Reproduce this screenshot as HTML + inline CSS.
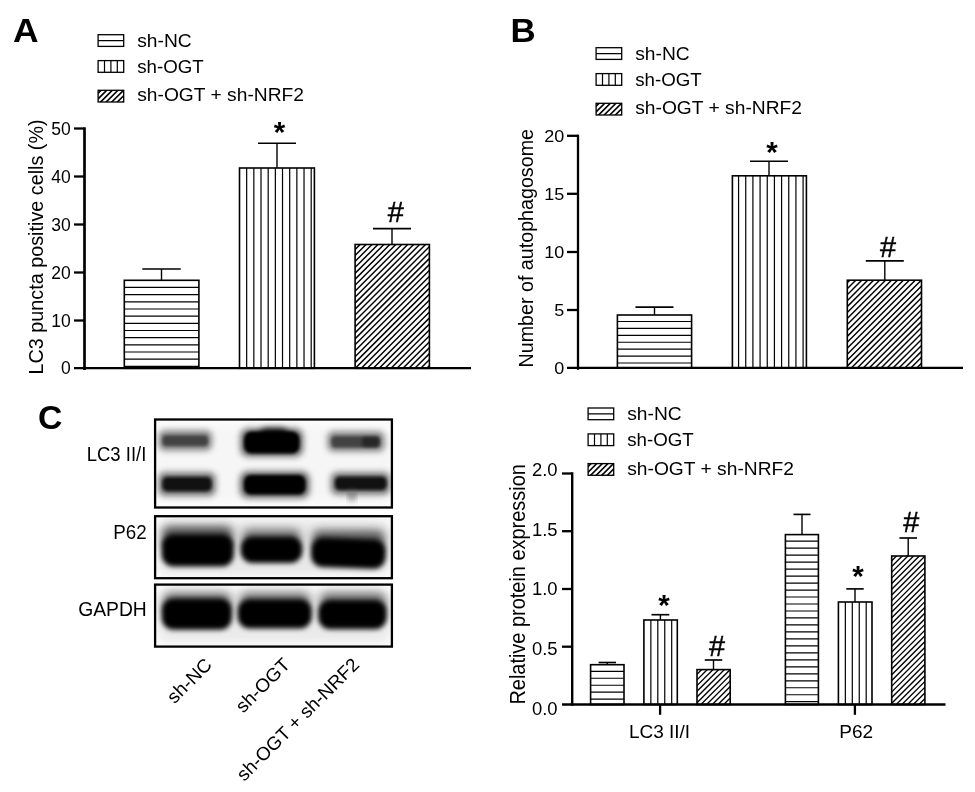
<!DOCTYPE html>
<html><head><meta charset="utf-8"><title>Figure</title>
<style>html,body{margin:0;padding:0;background:#fff}svg{display:block}text{white-space:pre;stroke:none}</style>
</head><body>
<svg width="975" height="792" viewBox="0 0 975 792" font-family="'Liberation Sans', Arial, sans-serif" fill="#000" stroke="#000">
<defs><filter id="b0" x="-20%" y="-50%" width="140%" height="200%"><feGaussianBlur stdDeviation="1.7"/></filter><filter id="b1" x="-20%" y="-50%" width="140%" height="200%"><feGaussianBlur stdDeviation="3.0"/></filter><filter id="b2" x="-20%" y="-50%" width="140%" height="200%"><feGaussianBlur stdDeviation="2.9"/></filter><filter id="b3" x="-20%" y="-50%" width="140%" height="200%"><feGaussianBlur stdDeviation="4"/></filter></defs>
<g stroke="none">
<text x="12.9" y="41.7" font-size="33.5" text-anchor="start" font-weight="bold" textLength="25.60" lengthAdjust="spacingAndGlyphs">A</text>
<text x="510.6" y="41.8" font-size="33.5" text-anchor="start" font-weight="bold" textLength="25.20" lengthAdjust="spacingAndGlyphs">B</text>
<text x="38.0" y="429.2" font-size="33.5" text-anchor="start" font-weight="bold" textLength="24.40" lengthAdjust="spacingAndGlyphs">C</text>
</g>
<g stroke="none">
<text x="70.7" y="135.0" font-size="17.5" text-anchor="end" font-weight="normal">50</text>
<text x="70.7" y="183.0" font-size="17.5" text-anchor="end" font-weight="normal">40</text>
<text x="70.7" y="231.0" font-size="17.5" text-anchor="end" font-weight="normal">30</text>
<text x="70.7" y="279.0" font-size="17.5" text-anchor="end" font-weight="normal">20</text>
<text x="70.7" y="327.0" font-size="17.5" text-anchor="end" font-weight="normal">10</text>
<text x="70.7" y="373.90000000000003" font-size="17.5" text-anchor="end" font-weight="normal">0</text>
<text x="42.6" y="374.4" font-size="21" text-anchor="start" font-weight="normal" transform="rotate(-90 42.6 374.4)" textLength="255.00" lengthAdjust="spacingAndGlyphs">LC3 puncta positive cells (%)</text>
<text x="273.85" y="141.9" font-size="29.5" text-anchor="start" font-weight="bold">*</text>
<g transform="translate(395.65 212.2) scale(1 1.03)"><text x="-7.99" y="9.86" font-size="28.8" style="stroke:#000;stroke-width:0.45px">#</text></g>
</g>
<clipPath id="c1"><rect x="98.10" y="34.70" width="25.60" height="11.70"/></clipPath>
<g clip-path="url(#c1)" stroke-width="1.2">
<line x1="98.10" y1="40.55" x2="123.70" y2="40.55"/>
</g>
<rect x="98.10" y="34.70" width="25.60" height="11.70" fill="none" stroke-width="1.3"/>
<text x="137.2" y="46.6" font-size="18.7" text-anchor="start" font-weight="normal" textLength="54.47" lengthAdjust="spacingAndGlyphs">sh-NC</text>
<clipPath id="c2"><rect x="98.10" y="60.60" width="25.60" height="11.70"/></clipPath>
<g clip-path="url(#c2)" stroke-width="1.2">
<line x1="104.50" y1="60.60" x2="104.50" y2="72.30"/>
<line x1="110.90" y1="60.60" x2="110.90" y2="72.30"/>
<line x1="117.30" y1="60.60" x2="117.30" y2="72.30"/>
</g>
<rect x="98.10" y="60.60" width="25.60" height="11.70" fill="none" stroke-width="1.3"/>
<text x="137.2" y="72.6" font-size="18.7" text-anchor="start" font-weight="normal" textLength="66.49" lengthAdjust="spacingAndGlyphs">sh-OGT</text>
<clipPath id="c3"><rect x="98.10" y="90.30" width="25.60" height="11.70"/></clipPath>
<g clip-path="url(#c3)" stroke-width="1.6">
<line x1="76.20" y1="104.00" x2="91.90" y2="88.30"/>
<line x1="81.80" y1="104.00" x2="97.50" y2="88.30"/>
<line x1="87.40" y1="104.00" x2="103.10" y2="88.30"/>
<line x1="93.00" y1="104.00" x2="108.70" y2="88.30"/>
<line x1="98.60" y1="104.00" x2="114.30" y2="88.30"/>
<line x1="104.20" y1="104.00" x2="119.90" y2="88.30"/>
<line x1="109.80" y1="104.00" x2="125.50" y2="88.30"/>
<line x1="115.40" y1="104.00" x2="131.10" y2="88.30"/>
<line x1="121.00" y1="104.00" x2="136.70" y2="88.30"/>
<line x1="126.60" y1="104.00" x2="142.30" y2="88.30"/>
</g>
<rect x="98.10" y="90.30" width="25.60" height="11.70" fill="none" stroke-width="1.3"/>
<text x="137.2" y="101.2" font-size="18.7" text-anchor="start" font-weight="normal" textLength="166.82" lengthAdjust="spacingAndGlyphs">sh-OGT + sh-NRF2</text>
<line x1="84.50" y1="127.30" x2="84.50" y2="370.00" stroke-width="2.7" stroke-linecap="butt"/>
<line x1="74.00" y1="368.10" x2="471.00" y2="368.10" stroke-width="2.4" stroke-linecap="butt"/>
<line x1="74.00" y1="128.50" x2="84.50" y2="128.50" stroke-width="2.3" stroke-linecap="butt"/>
<line x1="74.00" y1="176.50" x2="84.50" y2="176.50" stroke-width="2.3" stroke-linecap="butt"/>
<line x1="74.00" y1="224.50" x2="84.50" y2="224.50" stroke-width="2.3" stroke-linecap="butt"/>
<line x1="74.00" y1="272.50" x2="84.50" y2="272.50" stroke-width="2.3" stroke-linecap="butt"/>
<line x1="74.00" y1="320.50" x2="84.50" y2="320.50" stroke-width="2.3" stroke-linecap="butt"/>
<clipPath id="c4"><rect x="124.30" y="280.30" width="74.60" height="88.00"/></clipPath>
<g clip-path="url(#c4)" stroke-width="1.2">
<line x1="124.30" y1="287.47" x2="198.90" y2="287.47"/>
<line x1="124.30" y1="294.64" x2="198.90" y2="294.64"/>
<line x1="124.30" y1="301.81" x2="198.90" y2="301.81"/>
<line x1="124.30" y1="308.98" x2="198.90" y2="308.98"/>
<line x1="124.30" y1="316.15" x2="198.90" y2="316.15"/>
<line x1="124.30" y1="323.32" x2="198.90" y2="323.32"/>
<line x1="124.30" y1="330.49" x2="198.90" y2="330.49"/>
<line x1="124.30" y1="337.66" x2="198.90" y2="337.66"/>
<line x1="124.30" y1="344.83" x2="198.90" y2="344.83"/>
<line x1="124.30" y1="352.00" x2="198.90" y2="352.00"/>
<line x1="124.30" y1="359.17" x2="198.90" y2="359.17"/>
<line x1="124.30" y1="366.34" x2="198.90" y2="366.34"/>
</g>
<rect x="124.30" y="280.30" width="74.60" height="88.00" fill="none" stroke-width="1.6"/>
<line x1="161.50" y1="280.30" x2="161.50" y2="269.00" stroke-width="1.4" stroke-linecap="butt"/>
<line x1="142.30" y1="269.00" x2="180.70" y2="269.00" stroke-width="1.65" stroke-linecap="butt"/>
<clipPath id="c5"><rect x="239.50" y="168.00" width="74.90" height="200.30"/></clipPath>
<g clip-path="url(#c5)" stroke-width="1.2">
<line x1="246.67" y1="168.00" x2="246.67" y2="368.30"/>
<line x1="253.84" y1="168.00" x2="253.84" y2="368.30"/>
<line x1="261.01" y1="168.00" x2="261.01" y2="368.30"/>
<line x1="268.18" y1="168.00" x2="268.18" y2="368.30"/>
<line x1="275.35" y1="168.00" x2="275.35" y2="368.30"/>
<line x1="282.52" y1="168.00" x2="282.52" y2="368.30"/>
<line x1="289.69" y1="168.00" x2="289.69" y2="368.30"/>
<line x1="296.86" y1="168.00" x2="296.86" y2="368.30"/>
<line x1="304.03" y1="168.00" x2="304.03" y2="368.30"/>
<line x1="311.20" y1="168.00" x2="311.20" y2="368.30"/>
</g>
<rect x="239.50" y="168.00" width="74.90" height="200.30" fill="none" stroke-width="1.6"/>
<line x1="277.00" y1="168.00" x2="277.00" y2="143.20" stroke-width="1.4" stroke-linecap="butt"/>
<line x1="258.00" y1="143.20" x2="296.00" y2="143.20" stroke-width="1.65" stroke-linecap="butt"/>
<clipPath id="c6"><rect x="355.10" y="244.50" width="74.30" height="123.80"/></clipPath>
<g clip-path="url(#c6)" stroke-width="1.45">
<line x1="222.40" y1="370.30" x2="350.20" y2="242.50"/>
<line x1="228.35" y1="370.30" x2="356.15" y2="242.50"/>
<line x1="234.30" y1="370.30" x2="362.10" y2="242.50"/>
<line x1="240.25" y1="370.30" x2="368.05" y2="242.50"/>
<line x1="246.20" y1="370.30" x2="374.00" y2="242.50"/>
<line x1="252.15" y1="370.30" x2="379.95" y2="242.50"/>
<line x1="258.10" y1="370.30" x2="385.90" y2="242.50"/>
<line x1="264.05" y1="370.30" x2="391.85" y2="242.50"/>
<line x1="270.00" y1="370.30" x2="397.80" y2="242.50"/>
<line x1="275.95" y1="370.30" x2="403.75" y2="242.50"/>
<line x1="281.90" y1="370.30" x2="409.70" y2="242.50"/>
<line x1="287.85" y1="370.30" x2="415.65" y2="242.50"/>
<line x1="293.80" y1="370.30" x2="421.60" y2="242.50"/>
<line x1="299.75" y1="370.30" x2="427.55" y2="242.50"/>
<line x1="305.70" y1="370.30" x2="433.50" y2="242.50"/>
<line x1="311.65" y1="370.30" x2="439.45" y2="242.50"/>
<line x1="317.60" y1="370.30" x2="445.40" y2="242.50"/>
<line x1="323.55" y1="370.30" x2="451.35" y2="242.50"/>
<line x1="329.50" y1="370.30" x2="457.30" y2="242.50"/>
<line x1="335.45" y1="370.30" x2="463.25" y2="242.50"/>
<line x1="341.40" y1="370.30" x2="469.20" y2="242.50"/>
<line x1="347.35" y1="370.30" x2="475.15" y2="242.50"/>
<line x1="353.30" y1="370.30" x2="481.10" y2="242.50"/>
<line x1="359.25" y1="370.30" x2="487.05" y2="242.50"/>
<line x1="365.20" y1="370.30" x2="493.00" y2="242.50"/>
<line x1="371.15" y1="370.30" x2="498.95" y2="242.50"/>
<line x1="377.10" y1="370.30" x2="504.90" y2="242.50"/>
<line x1="383.05" y1="370.30" x2="510.85" y2="242.50"/>
<line x1="389.00" y1="370.30" x2="516.80" y2="242.50"/>
<line x1="394.95" y1="370.30" x2="522.75" y2="242.50"/>
<line x1="400.90" y1="370.30" x2="528.70" y2="242.50"/>
<line x1="406.85" y1="370.30" x2="534.65" y2="242.50"/>
<line x1="412.80" y1="370.30" x2="540.60" y2="242.50"/>
<line x1="418.75" y1="370.30" x2="546.55" y2="242.50"/>
<line x1="424.70" y1="370.30" x2="552.50" y2="242.50"/>
<line x1="430.65" y1="370.30" x2="558.45" y2="242.50"/>
</g>
<rect x="355.10" y="244.50" width="74.30" height="123.80" fill="none" stroke-width="1.6"/>
<line x1="392.00" y1="244.50" x2="392.00" y2="228.60" stroke-width="1.4" stroke-linecap="butt"/>
<line x1="373.00" y1="228.60" x2="411.00" y2="228.60" stroke-width="1.65" stroke-linecap="butt"/>
<g stroke="none">
<text x="564.2" y="141.5" font-size="16.5" text-anchor="end" font-weight="normal" textLength="20.00" lengthAdjust="spacingAndGlyphs">20</text>
<text x="564.2" y="199.5" font-size="16.5" text-anchor="end" font-weight="normal" textLength="20.00" lengthAdjust="spacingAndGlyphs">15</text>
<text x="564.2" y="257.7" font-size="16.5" text-anchor="end" font-weight="normal" textLength="20.00" lengthAdjust="spacingAndGlyphs">10</text>
<text x="564.2" y="315.7" font-size="16.5" text-anchor="end" font-weight="normal" textLength="10.00" lengthAdjust="spacingAndGlyphs">5</text>
<text x="564.2" y="373.8" font-size="16.5" text-anchor="end" font-weight="normal" textLength="10.00" lengthAdjust="spacingAndGlyphs">0</text>
<text x="533.3" y="367.5" font-size="21" text-anchor="start" font-weight="normal" transform="rotate(-90 533.3 367.5)" textLength="238.50" lengthAdjust="spacingAndGlyphs">Number of autophagosome</text>
<text x="766.15" y="162.2" font-size="29.5" text-anchor="start" font-weight="bold">*</text>
<g transform="translate(888.1 247.3) scale(1 1.03)"><text x="-7.99" y="9.86" font-size="28.8" style="stroke:#000;stroke-width:0.45px">#</text></g>
</g>
<clipPath id="c7"><rect x="596.10" y="47.70" width="25.60" height="11.70"/></clipPath>
<g clip-path="url(#c7)" stroke-width="1.2">
<line x1="596.10" y1="53.55" x2="621.70" y2="53.55"/>
</g>
<rect x="596.10" y="47.70" width="25.60" height="11.70" fill="none" stroke-width="1.3"/>
<text x="635.2" y="59.6" font-size="18.7" text-anchor="start" font-weight="normal" textLength="54.47" lengthAdjust="spacingAndGlyphs">sh-NC</text>
<clipPath id="c8"><rect x="596.10" y="73.60" width="25.60" height="11.70"/></clipPath>
<g clip-path="url(#c8)" stroke-width="1.2">
<line x1="602.50" y1="73.60" x2="602.50" y2="85.30"/>
<line x1="608.90" y1="73.60" x2="608.90" y2="85.30"/>
<line x1="615.30" y1="73.60" x2="615.30" y2="85.30"/>
</g>
<rect x="596.10" y="73.60" width="25.60" height="11.70" fill="none" stroke-width="1.3"/>
<text x="635.2" y="85.6" font-size="18.7" text-anchor="start" font-weight="normal" textLength="66.49" lengthAdjust="spacingAndGlyphs">sh-OGT</text>
<clipPath id="c9"><rect x="596.10" y="103.30" width="25.60" height="11.70"/></clipPath>
<g clip-path="url(#c9)" stroke-width="1.6">
<line x1="574.20" y1="117.00" x2="589.90" y2="101.30"/>
<line x1="579.80" y1="117.00" x2="595.50" y2="101.30"/>
<line x1="585.40" y1="117.00" x2="601.10" y2="101.30"/>
<line x1="591.00" y1="117.00" x2="606.70" y2="101.30"/>
<line x1="596.60" y1="117.00" x2="612.30" y2="101.30"/>
<line x1="602.20" y1="117.00" x2="617.90" y2="101.30"/>
<line x1="607.80" y1="117.00" x2="623.50" y2="101.30"/>
<line x1="613.40" y1="117.00" x2="629.10" y2="101.30"/>
<line x1="619.00" y1="117.00" x2="634.70" y2="101.30"/>
<line x1="624.60" y1="117.00" x2="640.30" y2="101.30"/>
</g>
<rect x="596.10" y="103.30" width="25.60" height="11.70" fill="none" stroke-width="1.3"/>
<text x="635.2" y="114.2" font-size="18.7" text-anchor="start" font-weight="normal" textLength="166.82" lengthAdjust="spacingAndGlyphs">sh-OGT + sh-NRF2</text>
<line x1="578.00" y1="134.70" x2="578.00" y2="369.80" stroke-width="2.3" stroke-linecap="butt"/>
<line x1="567.00" y1="367.80" x2="963.00" y2="367.80" stroke-width="2.3" stroke-linecap="butt"/>
<line x1="567.00" y1="135.80" x2="578.00" y2="135.80" stroke-width="2.3" stroke-linecap="butt"/>
<line x1="567.00" y1="193.80" x2="578.00" y2="193.80" stroke-width="2.3" stroke-linecap="butt"/>
<line x1="567.00" y1="252.00" x2="578.00" y2="252.00" stroke-width="2.3" stroke-linecap="butt"/>
<line x1="567.00" y1="310.00" x2="578.00" y2="310.00" stroke-width="2.3" stroke-linecap="butt"/>
<clipPath id="c10"><rect x="617.40" y="315.00" width="74.20" height="52.80"/></clipPath>
<g clip-path="url(#c10)" stroke-width="1.2">
<line x1="617.40" y1="321.50" x2="691.60" y2="321.50"/>
<line x1="617.40" y1="328.42" x2="691.60" y2="328.42"/>
<line x1="617.40" y1="335.34" x2="691.60" y2="335.34"/>
<line x1="617.40" y1="342.26" x2="691.60" y2="342.26"/>
<line x1="617.40" y1="349.18" x2="691.60" y2="349.18"/>
<line x1="617.40" y1="356.10" x2="691.60" y2="356.10"/>
<line x1="617.40" y1="363.02" x2="691.60" y2="363.02"/>
</g>
<rect x="617.40" y="315.00" width="74.20" height="52.80" fill="none" stroke-width="1.6"/>
<line x1="654.50" y1="315.00" x2="654.50" y2="307.10" stroke-width="1.4" stroke-linecap="butt"/>
<line x1="635.50" y1="307.10" x2="673.50" y2="307.10" stroke-width="1.65" stroke-linecap="butt"/>
<clipPath id="c11"><rect x="732.40" y="175.80" width="74.00" height="192.00"/></clipPath>
<g clip-path="url(#c11)" stroke-width="1.2">
<line x1="738.57" y1="175.80" x2="738.57" y2="367.80"/>
<line x1="745.74" y1="175.80" x2="745.74" y2="367.80"/>
<line x1="752.91" y1="175.80" x2="752.91" y2="367.80"/>
<line x1="760.08" y1="175.80" x2="760.08" y2="367.80"/>
<line x1="767.25" y1="175.80" x2="767.25" y2="367.80"/>
<line x1="774.42" y1="175.80" x2="774.42" y2="367.80"/>
<line x1="781.59" y1="175.80" x2="781.59" y2="367.80"/>
<line x1="788.76" y1="175.80" x2="788.76" y2="367.80"/>
<line x1="795.93" y1="175.80" x2="795.93" y2="367.80"/>
<line x1="803.10" y1="175.80" x2="803.10" y2="367.80"/>
</g>
<rect x="732.40" y="175.80" width="74.00" height="192.00" fill="none" stroke-width="1.6"/>
<line x1="769.00" y1="175.80" x2="769.00" y2="161.20" stroke-width="1.4" stroke-linecap="butt"/>
<line x1="750.00" y1="161.20" x2="788.00" y2="161.20" stroke-width="1.65" stroke-linecap="butt"/>
<clipPath id="c12"><rect x="847.30" y="280.20" width="74.20" height="87.60"/></clipPath>
<g clip-path="url(#c12)" stroke-width="1.45">
<line x1="748.37" y1="369.80" x2="839.97" y2="278.20"/>
<line x1="754.32" y1="369.80" x2="845.92" y2="278.20"/>
<line x1="760.27" y1="369.80" x2="851.87" y2="278.20"/>
<line x1="766.22" y1="369.80" x2="857.82" y2="278.20"/>
<line x1="772.17" y1="369.80" x2="863.77" y2="278.20"/>
<line x1="778.12" y1="369.80" x2="869.72" y2="278.20"/>
<line x1="784.07" y1="369.80" x2="875.67" y2="278.20"/>
<line x1="790.02" y1="369.80" x2="881.62" y2="278.20"/>
<line x1="795.97" y1="369.80" x2="887.57" y2="278.20"/>
<line x1="801.92" y1="369.80" x2="893.52" y2="278.20"/>
<line x1="807.87" y1="369.80" x2="899.47" y2="278.20"/>
<line x1="813.82" y1="369.80" x2="905.42" y2="278.20"/>
<line x1="819.77" y1="369.80" x2="911.37" y2="278.20"/>
<line x1="825.72" y1="369.80" x2="917.32" y2="278.20"/>
<line x1="831.67" y1="369.80" x2="923.27" y2="278.20"/>
<line x1="837.62" y1="369.80" x2="929.22" y2="278.20"/>
<line x1="843.57" y1="369.80" x2="935.17" y2="278.20"/>
<line x1="849.52" y1="369.80" x2="941.12" y2="278.20"/>
<line x1="855.47" y1="369.80" x2="947.07" y2="278.20"/>
<line x1="861.42" y1="369.80" x2="953.02" y2="278.20"/>
<line x1="867.37" y1="369.80" x2="958.97" y2="278.20"/>
<line x1="873.32" y1="369.80" x2="964.92" y2="278.20"/>
<line x1="879.27" y1="369.80" x2="970.87" y2="278.20"/>
<line x1="885.22" y1="369.80" x2="976.82" y2="278.20"/>
<line x1="891.17" y1="369.80" x2="982.77" y2="278.20"/>
<line x1="897.12" y1="369.80" x2="988.72" y2="278.20"/>
<line x1="903.07" y1="369.80" x2="994.67" y2="278.20"/>
<line x1="909.02" y1="369.80" x2="1000.62" y2="278.20"/>
<line x1="914.97" y1="369.80" x2="1006.57" y2="278.20"/>
<line x1="920.92" y1="369.80" x2="1012.52" y2="278.20"/>
</g>
<rect x="847.30" y="280.20" width="74.20" height="87.60" fill="none" stroke-width="1.6"/>
<line x1="884.80" y1="280.00" x2="884.80" y2="260.80" stroke-width="1.4" stroke-linecap="butt"/>
<line x1="865.80" y1="260.80" x2="903.80" y2="260.80" stroke-width="1.65" stroke-linecap="butt"/>
<g stroke="none">
<text x="557.6" y="476.1" font-size="17.5" text-anchor="end" font-weight="normal" textLength="25.60" lengthAdjust="spacingAndGlyphs">2.0</text>
<text x="557.6" y="535.8" font-size="17.5" text-anchor="end" font-weight="normal" textLength="25.60" lengthAdjust="spacingAndGlyphs">1.5</text>
<text x="557.6" y="595.3" font-size="17.5" text-anchor="end" font-weight="normal" textLength="25.60" lengthAdjust="spacingAndGlyphs">1.0</text>
<text x="557.6" y="654.5999999999999" font-size="17.5" text-anchor="end" font-weight="normal" textLength="25.60" lengthAdjust="spacingAndGlyphs">0.5</text>
<text x="557.6" y="714.5999999999999" font-size="17.5" text-anchor="end" font-weight="normal" textLength="25.60" lengthAdjust="spacingAndGlyphs">0.0</text>
<text x="524.9" y="704.6" font-size="21.5" text-anchor="start" font-weight="normal" transform="rotate(-90 524.9 704.6)" textLength="240.50" lengthAdjust="spacingAndGlyphs">Relative protein expression</text>
<text x="658.25" y="614.8" font-size="29.5" text-anchor="start" font-weight="bold">*</text>
<g transform="translate(717.0 646.2) scale(1 1.03)"><text x="-7.99" y="9.86" font-size="28.8" style="stroke:#000;stroke-width:0.45px">#</text></g>
<text x="852.15" y="585.5" font-size="29.5" text-anchor="start" font-weight="bold">*</text>
<g transform="translate(911.3 521.7) scale(1 1.03)"><text x="-7.99" y="9.86" font-size="28.8" style="stroke:#000;stroke-width:0.45px">#</text></g>
<text x="659.5" y="738.0" font-size="19" text-anchor="middle" font-weight="normal">LC3 II/I</text>
<text x="856.2" y="738.0" font-size="19" text-anchor="middle" font-weight="normal">P62</text>
</g>
<clipPath id="c13"><rect x="588.10" y="408.00" width="25.60" height="11.70"/></clipPath>
<g clip-path="url(#c13)" stroke-width="1.2">
<line x1="588.10" y1="413.85" x2="613.70" y2="413.85"/>
</g>
<rect x="588.10" y="408.00" width="25.60" height="11.70" fill="none" stroke-width="1.3"/>
<text x="627.2" y="419.90000000000003" font-size="18.7" text-anchor="start" font-weight="normal" textLength="54.47" lengthAdjust="spacingAndGlyphs">sh-NC</text>
<clipPath id="c14"><rect x="588.10" y="433.90" width="25.60" height="11.70"/></clipPath>
<g clip-path="url(#c14)" stroke-width="1.2">
<line x1="594.50" y1="433.90" x2="594.50" y2="445.60"/>
<line x1="600.90" y1="433.90" x2="600.90" y2="445.60"/>
<line x1="607.30" y1="433.90" x2="607.30" y2="445.60"/>
</g>
<rect x="588.10" y="433.90" width="25.60" height="11.70" fill="none" stroke-width="1.3"/>
<text x="627.2" y="445.9" font-size="18.7" text-anchor="start" font-weight="normal" textLength="66.49" lengthAdjust="spacingAndGlyphs">sh-OGT</text>
<clipPath id="c15"><rect x="588.10" y="463.60" width="25.60" height="11.70"/></clipPath>
<g clip-path="url(#c15)" stroke-width="1.6">
<line x1="566.20" y1="477.30" x2="581.90" y2="461.60"/>
<line x1="571.80" y1="477.30" x2="587.50" y2="461.60"/>
<line x1="577.40" y1="477.30" x2="593.10" y2="461.60"/>
<line x1="583.00" y1="477.30" x2="598.70" y2="461.60"/>
<line x1="588.60" y1="477.30" x2="604.30" y2="461.60"/>
<line x1="594.20" y1="477.30" x2="609.90" y2="461.60"/>
<line x1="599.80" y1="477.30" x2="615.50" y2="461.60"/>
<line x1="605.40" y1="477.30" x2="621.10" y2="461.60"/>
<line x1="611.00" y1="477.30" x2="626.70" y2="461.60"/>
<line x1="616.60" y1="477.30" x2="632.30" y2="461.60"/>
</g>
<rect x="588.10" y="463.60" width="25.60" height="11.70" fill="none" stroke-width="1.3"/>
<text x="627.2" y="474.5" font-size="18.7" text-anchor="start" font-weight="normal" textLength="166.82" lengthAdjust="spacingAndGlyphs">sh-OGT + sh-NRF2</text>
<line x1="572.20" y1="472.30" x2="572.20" y2="705.80" stroke-width="2.4" stroke-linecap="butt"/>
<line x1="562.00" y1="704.50" x2="945.50" y2="704.50" stroke-width="2.6" stroke-linecap="butt"/>
<line x1="562.00" y1="473.50" x2="572.20" y2="473.50" stroke-width="2.3" stroke-linecap="butt"/>
<line x1="562.00" y1="531.20" x2="572.20" y2="531.20" stroke-width="2.3" stroke-linecap="butt"/>
<line x1="562.00" y1="589.00" x2="572.20" y2="589.00" stroke-width="2.3" stroke-linecap="butt"/>
<line x1="562.00" y1="646.70" x2="572.20" y2="646.70" stroke-width="2.3" stroke-linecap="butt"/>
<line x1="660.10" y1="704.50" x2="660.10" y2="714.80" stroke-width="2.3" stroke-linecap="butt"/>
<line x1="854.90" y1="704.50" x2="854.90" y2="714.80" stroke-width="2.3" stroke-linecap="butt"/>
<clipPath id="c16"><rect x="590.60" y="664.70" width="33.40" height="39.80"/></clipPath>
<g clip-path="url(#c16)" stroke-width="1.2">
<line x1="590.60" y1="671.28" x2="624.00" y2="671.28"/>
<line x1="590.60" y1="678.26" x2="624.00" y2="678.26"/>
<line x1="590.60" y1="685.24" x2="624.00" y2="685.24"/>
<line x1="590.60" y1="692.22" x2="624.00" y2="692.22"/>
<line x1="590.60" y1="699.20" x2="624.00" y2="699.20"/>
</g>
<rect x="590.60" y="664.70" width="33.40" height="39.80" fill="none" stroke-width="1.6"/>
<line x1="607.30" y1="664.70" x2="607.30" y2="662.50" stroke-width="1.4" stroke-linecap="butt"/>
<line x1="598.55" y1="662.50" x2="616.05" y2="662.50" stroke-width="1.65" stroke-linecap="butt"/>
<clipPath id="c17"><rect x="643.90" y="620.00" width="33.40" height="84.50"/></clipPath>
<g clip-path="url(#c17)" stroke-width="1.2">
<line x1="650.85" y1="620.00" x2="650.85" y2="704.50"/>
<line x1="657.80" y1="620.00" x2="657.80" y2="704.50"/>
<line x1="664.75" y1="620.00" x2="664.75" y2="704.50"/>
<line x1="671.70" y1="620.00" x2="671.70" y2="704.50"/>
</g>
<rect x="643.90" y="620.00" width="33.40" height="84.50" fill="none" stroke-width="1.6"/>
<line x1="660.40" y1="620.00" x2="660.40" y2="614.70" stroke-width="1.4" stroke-linecap="butt"/>
<line x1="651.50" y1="614.70" x2="669.30" y2="614.70" stroke-width="1.65" stroke-linecap="butt"/>
<clipPath id="c18"><rect x="697.00" y="669.60" width="33.20" height="34.90"/></clipPath>
<g clip-path="url(#c18)" stroke-width="1.35">
<line x1="653.30" y1="706.50" x2="692.20" y2="667.60"/>
<line x1="659.00" y1="706.50" x2="697.90" y2="667.60"/>
<line x1="664.70" y1="706.50" x2="703.60" y2="667.60"/>
<line x1="670.40" y1="706.50" x2="709.30" y2="667.60"/>
<line x1="676.10" y1="706.50" x2="715.00" y2="667.60"/>
<line x1="681.80" y1="706.50" x2="720.70" y2="667.60"/>
<line x1="687.50" y1="706.50" x2="726.40" y2="667.60"/>
<line x1="693.20" y1="706.50" x2="732.10" y2="667.60"/>
<line x1="698.90" y1="706.50" x2="737.80" y2="667.60"/>
<line x1="704.60" y1="706.50" x2="743.50" y2="667.60"/>
<line x1="710.30" y1="706.50" x2="749.20" y2="667.60"/>
<line x1="716.00" y1="706.50" x2="754.90" y2="667.60"/>
<line x1="721.70" y1="706.50" x2="760.60" y2="667.60"/>
<line x1="727.40" y1="706.50" x2="766.30" y2="667.60"/>
<line x1="733.10" y1="706.50" x2="772.00" y2="667.60"/>
</g>
<rect x="697.00" y="669.60" width="33.20" height="34.90" fill="none" stroke-width="1.6"/>
<line x1="713.50" y1="669.60" x2="713.50" y2="660.00" stroke-width="1.4" stroke-linecap="butt"/>
<line x1="704.75" y1="660.00" x2="722.25" y2="660.00" stroke-width="1.65" stroke-linecap="butt"/>
<clipPath id="c19"><rect x="785.40" y="534.60" width="33.00" height="169.90"/></clipPath>
<g clip-path="url(#c19)" stroke-width="1.2">
<line x1="785.40" y1="541.18" x2="818.40" y2="541.18"/>
<line x1="785.40" y1="548.16" x2="818.40" y2="548.16"/>
<line x1="785.40" y1="555.14" x2="818.40" y2="555.14"/>
<line x1="785.40" y1="562.12" x2="818.40" y2="562.12"/>
<line x1="785.40" y1="569.10" x2="818.40" y2="569.10"/>
<line x1="785.40" y1="576.08" x2="818.40" y2="576.08"/>
<line x1="785.40" y1="583.06" x2="818.40" y2="583.06"/>
<line x1="785.40" y1="590.04" x2="818.40" y2="590.04"/>
<line x1="785.40" y1="597.02" x2="818.40" y2="597.02"/>
<line x1="785.40" y1="604.00" x2="818.40" y2="604.00"/>
<line x1="785.40" y1="610.98" x2="818.40" y2="610.98"/>
<line x1="785.40" y1="617.96" x2="818.40" y2="617.96"/>
<line x1="785.40" y1="624.94" x2="818.40" y2="624.94"/>
<line x1="785.40" y1="631.92" x2="818.40" y2="631.92"/>
<line x1="785.40" y1="638.90" x2="818.40" y2="638.90"/>
<line x1="785.40" y1="645.88" x2="818.40" y2="645.88"/>
<line x1="785.40" y1="652.86" x2="818.40" y2="652.86"/>
<line x1="785.40" y1="659.84" x2="818.40" y2="659.84"/>
<line x1="785.40" y1="666.82" x2="818.40" y2="666.82"/>
<line x1="785.40" y1="673.80" x2="818.40" y2="673.80"/>
<line x1="785.40" y1="680.78" x2="818.40" y2="680.78"/>
<line x1="785.40" y1="687.76" x2="818.40" y2="687.76"/>
<line x1="785.40" y1="694.74" x2="818.40" y2="694.74"/>
<line x1="785.40" y1="701.72" x2="818.40" y2="701.72"/>
</g>
<rect x="785.40" y="534.60" width="33.00" height="169.90" fill="none" stroke-width="1.6"/>
<line x1="802.00" y1="534.60" x2="802.00" y2="514.40" stroke-width="1.4" stroke-linecap="butt"/>
<line x1="793.50" y1="514.40" x2="810.50" y2="514.40" stroke-width="1.65" stroke-linecap="butt"/>
<clipPath id="c20"><rect x="838.40" y="602.00" width="33.60" height="102.50"/></clipPath>
<g clip-path="url(#c20)" stroke-width="1.2">
<line x1="845.35" y1="602.00" x2="845.35" y2="704.50"/>
<line x1="852.30" y1="602.00" x2="852.30" y2="704.50"/>
<line x1="859.25" y1="602.00" x2="859.25" y2="704.50"/>
<line x1="866.20" y1="602.00" x2="866.20" y2="704.50"/>
</g>
<rect x="838.40" y="602.00" width="33.60" height="102.50" fill="none" stroke-width="1.6"/>
<line x1="855.00" y1="602.00" x2="855.00" y2="588.90" stroke-width="1.4" stroke-linecap="butt"/>
<line x1="846.30" y1="588.90" x2="863.70" y2="588.90" stroke-width="1.65" stroke-linecap="butt"/>
<clipPath id="c21"><rect x="891.70" y="556.00" width="33.20" height="148.50"/></clipPath>
<g clip-path="url(#c21)" stroke-width="1.35">
<line x1="734.60" y1="706.50" x2="887.10" y2="554.00"/>
<line x1="740.30" y1="706.50" x2="892.80" y2="554.00"/>
<line x1="746.00" y1="706.50" x2="898.50" y2="554.00"/>
<line x1="751.70" y1="706.50" x2="904.20" y2="554.00"/>
<line x1="757.40" y1="706.50" x2="909.90" y2="554.00"/>
<line x1="763.10" y1="706.50" x2="915.60" y2="554.00"/>
<line x1="768.80" y1="706.50" x2="921.30" y2="554.00"/>
<line x1="774.50" y1="706.50" x2="927.00" y2="554.00"/>
<line x1="780.20" y1="706.50" x2="932.70" y2="554.00"/>
<line x1="785.90" y1="706.50" x2="938.40" y2="554.00"/>
<line x1="791.60" y1="706.50" x2="944.10" y2="554.00"/>
<line x1="797.30" y1="706.50" x2="949.80" y2="554.00"/>
<line x1="803.00" y1="706.50" x2="955.50" y2="554.00"/>
<line x1="808.70" y1="706.50" x2="961.20" y2="554.00"/>
<line x1="814.40" y1="706.50" x2="966.90" y2="554.00"/>
<line x1="820.10" y1="706.50" x2="972.60" y2="554.00"/>
<line x1="825.80" y1="706.50" x2="978.30" y2="554.00"/>
<line x1="831.50" y1="706.50" x2="984.00" y2="554.00"/>
<line x1="837.20" y1="706.50" x2="989.70" y2="554.00"/>
<line x1="842.90" y1="706.50" x2="995.40" y2="554.00"/>
<line x1="848.60" y1="706.50" x2="1001.10" y2="554.00"/>
<line x1="854.30" y1="706.50" x2="1006.80" y2="554.00"/>
<line x1="860.00" y1="706.50" x2="1012.50" y2="554.00"/>
<line x1="865.70" y1="706.50" x2="1018.20" y2="554.00"/>
<line x1="871.40" y1="706.50" x2="1023.90" y2="554.00"/>
<line x1="877.10" y1="706.50" x2="1029.60" y2="554.00"/>
<line x1="882.80" y1="706.50" x2="1035.30" y2="554.00"/>
<line x1="888.50" y1="706.50" x2="1041.00" y2="554.00"/>
<line x1="894.20" y1="706.50" x2="1046.70" y2="554.00"/>
<line x1="899.90" y1="706.50" x2="1052.40" y2="554.00"/>
<line x1="905.60" y1="706.50" x2="1058.10" y2="554.00"/>
<line x1="911.30" y1="706.50" x2="1063.80" y2="554.00"/>
<line x1="917.00" y1="706.50" x2="1069.50" y2="554.00"/>
<line x1="922.70" y1="706.50" x2="1075.20" y2="554.00"/>
<line x1="928.40" y1="706.50" x2="1080.90" y2="554.00"/>
</g>
<rect x="891.70" y="556.00" width="33.20" height="148.50" fill="none" stroke-width="1.6"/>
<line x1="908.20" y1="556.00" x2="908.20" y2="538.00" stroke-width="1.4" stroke-linecap="butt"/>
<line x1="899.40" y1="538.00" x2="917.00" y2="538.00" stroke-width="1.65" stroke-linecap="butt"/>
<g stroke="none">
<text x="146.3" y="460.9" font-size="19.3" text-anchor="end" font-weight="normal" textLength="59.60" lengthAdjust="spacingAndGlyphs">LC3 II/I</text>
<text x="146.6" y="538.5" font-size="19.3" text-anchor="end" font-weight="normal" textLength="33.40" lengthAdjust="spacingAndGlyphs">P62</text>
<text x="146.8" y="615.7" font-size="19.3" text-anchor="end" font-weight="normal">GAPDH</text>
<text x="213.1" y="665.9" font-size="18.7" text-anchor="end" font-weight="normal" transform="rotate(-45 213.1 665.9)" textLength="54.47" lengthAdjust="spacingAndGlyphs">sh-NC</text>
<text x="291.4" y="665.6" font-size="18.7" text-anchor="end" font-weight="normal" transform="rotate(-45 291.4 665.6)" textLength="68.16" lengthAdjust="spacingAndGlyphs">sh-OGT</text>
<text x="360.5" y="665.7" font-size="18.7" text-anchor="end" font-weight="normal" transform="rotate(-45 360.5 665.7)" textLength="164.38" lengthAdjust="spacingAndGlyphs">sh-OGT + sh-NRF2</text>
</g>
<clipPath id="kb1"><rect x="155.1" y="419.5" width="236.79999999999998" height="88.0"/></clipPath>
<rect x="155.1" y="419.5" width="236.79999999999998" height="88.0" fill="#fbfbfb" stroke="none"/>
<g clip-path="url(#kb1)" stroke="none">
<rect x="158" y="428" width="232.0" height="72.0" rx="10.0" fill="#d0d0d0" opacity="0.12" filter="url(#b3)"/>
<rect x="158.5" y="430.5" width="53.5" height="20.0" rx="6.0" fill="#6a6a6a" opacity="0.85" filter="url(#b1)"/>
<rect x="162.5" y="435.5" width="45.5" height="10.5" rx="4.0" fill="#383838" opacity="0.85" filter="url(#b0)"/>
<rect x="240.5" y="428.5" width="62.5" height="28.0" rx="8.0" fill="#444" opacity="0.85" filter="url(#b1)"/>
<rect x="244" y="431.5" width="55.5" height="22.0" rx="8.0" fill="#000" opacity="1" filter="url(#b0)"/>
<rect x="260" y="428.2" width="28.0" height="11.8" rx="6.0" fill="#000" opacity="0.85" filter="url(#b1)"/>
<rect x="327.5" y="431.5" width="57.0" height="20.0" rx="6.0" fill="#6a6a6a" opacity="0.85" filter="url(#b1)"/>
<rect x="331.5" y="436.3" width="48.5" height="11.2" rx="4.0" fill="#383838" opacity="0.85" filter="url(#b0)"/>
<rect x="362" y="437" width="17.0" height="10.0" rx="4.0" fill="#111" opacity="0.5" filter="url(#b0)"/>
<rect x="158.5" y="472.5" width="57.0" height="23.3" rx="6.0" fill="#555" opacity="0.85" filter="url(#b1)"/>
<rect x="162.5" y="477" width="49.0" height="14.2" rx="5.0" fill="#0c0c0c" opacity="0.95" filter="url(#b0)"/>
<rect x="240" y="471.5" width="69.5" height="26.5" rx="8.0" fill="#444" opacity="0.85" filter="url(#b1)"/>
<rect x="244" y="475" width="61.5" height="19.5" rx="7.0" fill="#000" opacity="1" filter="url(#b0)"/>
<rect x="331" y="472.5" width="59.0" height="22.0" rx="6.0" fill="#555" opacity="0.85" filter="url(#b1)"/>
<rect x="335" y="476.8" width="51.5" height="13.2" rx="5.0" fill="#0a0a0a" opacity="0.95" filter="url(#b0)"/>
<rect x="348" y="491" width="8.0" height="9.5" rx="3.0" fill="#666" opacity="0.7" filter="url(#b1)"/>
</g>
<rect x="155.1" y="419.5" width="236.79999999999998" height="88.0" fill="none" stroke-width="2.3"/>
<clipPath id="kb2"><rect x="155.1" y="516.2" width="236.79999999999998" height="62.0"/></clipPath>
<rect x="155.1" y="516.2" width="236.79999999999998" height="62.0" fill="#fbfbfb" stroke="none"/>
<g clip-path="url(#kb2)" stroke="none">
<rect x="158" y="520" width="232.0" height="54.0" rx="10.0" fill="#bdbdbd" opacity="0.3" filter="url(#b3)"/>
<rect x="162" y="526" width="71.0" height="22.0" rx="8.0" fill="#333" opacity="0.8" filter="url(#b3)"/>
<rect x="242" y="529" width="59.0" height="19.0" rx="8.0" fill="#444" opacity="0.7" filter="url(#b3)"/>
<rect x="312" y="530" width="73.0" height="20.0" rx="8.0" fill="#333" opacity="0.75" filter="url(#b3)"/>
<rect x="161.6" y="534.6" width="72.2" height="31.8" rx="12.0" fill="#000" opacity="1" filter="url(#b2)"/>
<rect x="240.6" y="536.4" width="61.8" height="26.6" rx="12.0" fill="#000" opacity="1" filter="url(#b2)"/>
<rect x="311.0" y="538.4" width="74.8" height="29.6" rx="12.0" fill="#000" opacity="1" filter="url(#b2)" transform="rotate(2.0 348.4 553.2)"/>
</g>
<rect x="155.1" y="516.2" width="236.79999999999998" height="62.0" fill="none" stroke-width="2.3"/>
<clipPath id="kb3"><rect x="155.1" y="584.6" width="236.79999999999998" height="62.0"/></clipPath>
<rect x="155.1" y="584.6" width="236.79999999999998" height="62.0" fill="#fbfbfb" stroke="none"/>
<g clip-path="url(#kb3)" stroke="none">
<rect x="158" y="590" width="232.0" height="52.0" rx="10.0" fill="#c4c4c4" opacity="0.3" filter="url(#b3)"/>
<rect x="163" y="592.5" width="68.0" height="19.5" rx="8.0" fill="#444" opacity="0.7" filter="url(#b3)"/>
<rect x="240" y="592.5" width="70.0" height="19.5" rx="8.0" fill="#444" opacity="0.7" filter="url(#b3)"/>
<rect x="320" y="592.5" width="66.0" height="19.5" rx="8.0" fill="#444" opacity="0.7" filter="url(#b3)"/>
<rect x="161.6" y="598.6" width="70.4" height="31.2" rx="12.0" fill="#000" opacity="1" filter="url(#b2)"/>
<rect x="237.6" y="599.2" width="74.2" height="29.4" rx="12.0" fill="#000" opacity="1" filter="url(#b2)"/>
<rect x="318.2" y="600.0" width="68.6" height="29.2" rx="12.0" fill="#000" opacity="1" filter="url(#b2)"/>
</g>
<rect x="155.1" y="584.6" width="236.79999999999998" height="62.0" fill="none" stroke-width="2.3"/>
</svg>
</body></html>
